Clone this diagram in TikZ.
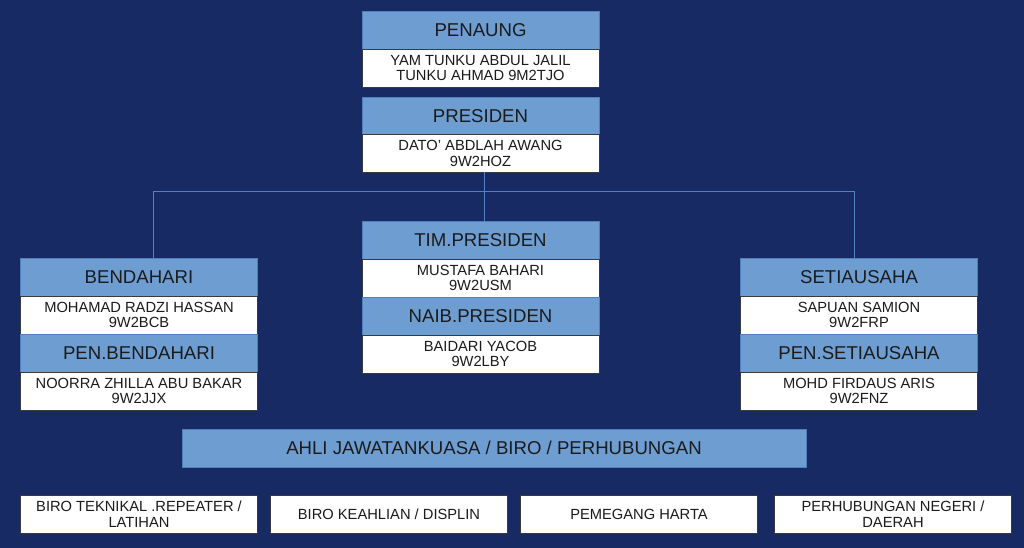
\documentclass[tikz,border=0pt]{standalone}
\usepackage{fontspec}
\setmainfont{Liberation Sans}
\definecolor{bgnavy}{HTML}{172A63}
\definecolor{hdrblue}{HTML}{6E9DD1}
\definecolor{hdredge}{HTML}{4F80BD}
\definecolor{lineblue}{HTML}{4E82C4}
\definecolor{txt}{HTML}{1B1B1B}
\definecolor{boxedge}{HTML}{3A3A3A}
\begin{document}
\begin{tikzpicture}[x=1pt,y=-1pt,
  hdr/.style={rectangle,fill=hdrblue,draw=hdredge,line width=0.8pt,minimum width=237pt,minimum height=38pt,inner sep=0pt,text=txt,font=\fontsize{18.6}{21}\selectfont},
  wbox/.style={rectangle,fill=white,draw=boxedge,line width=0.8pt,minimum width=237pt,minimum height=38pt,inner sep=0pt,align=center,text=txt,font=\fontsize{14.7}{15.8}\selectfont},
  conn/.style={draw=lineblue,line width=0.9pt}]
\fill[bgnavy] (0,0) rectangle (1024,548);
\useasboundingbox (0,0) rectangle (1024,548);
% top column
\node[hdr] (penaung) at (480.5,30.5) {PENAUNG};
\node[wbox] (penaungn) at (480.5,68) {YAM TUNKU ABDUL JALIL\\TUNKU AHMAD 9M2TJO};
\node[hdr] (pres) at (480.5,116) {PRESIDEN};
\node[wbox] (presn) at (480.5,153.5) {DATO' ABDLAH AWANG\\9W2HOZ};
% connectors
\coordinate (j) at (484,191);
\coordinate (jl) at (153,191);
\coordinate (jr) at (854,191);
\coordinate (tl) at (153,259);
\coordinate (tr) at (854,259);
\coordinate (tm) at (484,221);
\coordinate (pb) at (484,172);
\draw[conn] (pb) -- (j);
\draw[conn] (tl) -- (jl) -- (jr) -- (tr);
\draw[conn] (j) -- (tm);
% middle column
\node[hdr] (tim) at (480.5,240) {TIM.PRESIDEN};
\node[wbox] (timn) at (480.5,278) {MUSTAFA BAHARI\\9W2USM};
\node[hdr] (naib) at (480.5,316) {NAIB.PRESIDEN};
\node[wbox] (naibn) at (480.5,354) {BAIDARI YACOB\\9W2LBY};
% left column
\node[hdr] (bend) at (139,277.5) {BENDAHARI};
\node[wbox] (bendn) at (139,315) {MOHAMAD RADZI HASSAN\\9W2BCB};
\node[hdr] (penbend) at (139,353) {PEN.BENDAHARI};
\node[wbox] (penbendn) at (139,391) {NOORRA ZHILLA ABU BAKAR\\9W2JJX};
% right column
\node[hdr] (seti) at (859,277.5) {SETIAUSAHA};
\node[wbox] (setin) at (859,315) {SAPUAN SAMION\\9W2FRP};
\node[hdr] (penseti) at (859,353) {PEN.SETIAUSAHA};
\node[wbox] (pensetin) at (859,391) {MOHD FIRDAUS ARIS\\9W2FNZ};
% committee bar
\node[hdr,minimum width=624pt] (ahli) at (494,448) {AHLI JAWATANKUASA / BIRO / PERHUBUNGAN};
% bottom boxes
\node[wbox] (b1) at (139,514) {BIRO TEKNIKAL .REPEATER /\\LATIHAN};
\node[wbox] (b2) at (389,514) {BIRO KEAHLIAN / DISPLIN};
\node[wbox] (b3) at (639,514) {PEMEGANG HARTA};
\node[wbox] (b4) at (893,514) {PERHUBUNGAN NEGERI /\\DAERAH};
\end{tikzpicture}
\end{document}
